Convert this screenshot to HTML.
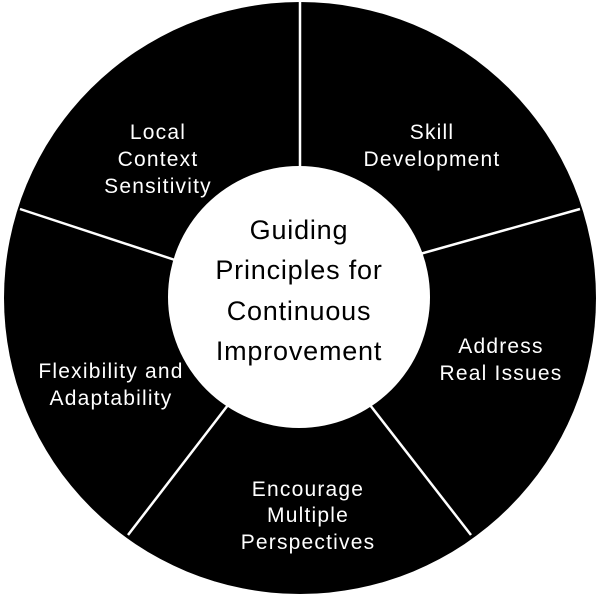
<!DOCTYPE html>
<html><head><style>
html,body{margin:0;padding:0;background:#fff;}
svg{display:block}
text{font-family:"Liberation Sans",sans-serif;text-anchor:middle;}
.w{fill:#fff;font-size:21px;letter-spacing:1.2px;}
.b{fill:#000;font-size:27px;letter-spacing:0.8px;}
</style></head><body>
<svg width="600" height="605" viewBox="0 0 600 605">
<circle cx="300" cy="298" r="296" fill="#000"/>
<g stroke="#fff" stroke-width="2.5">
<line x1="300" y1="0" x2="300" y2="170"/>
<line x1="420" y1="254" x2="580" y2="209"/>
<line x1="370" y1="405" x2="471" y2="535"/>
<line x1="228" y1="405" x2="128" y2="535"/>
<line x1="178" y1="261" x2="20" y2="209"/>
</g>
<circle cx="299" cy="297" r="131" fill="#fff"/>
<text class="w" x="158" y="139">Local</text>
<text class="w" x="158" y="166">Context</text>
<text class="w" x="158" y="193">Sensitivity</text>
<text class="w" x="432" y="139">Skill</text>
<text class="w" x="432" y="166">Development</text>
<text class="w" x="501" y="353">Address</text>
<text class="w" x="501" y="380">Real Issues</text>
<text class="w" x="111" y="378">Flexibility and</text>
<text class="w" x="111" y="405">Adaptability</text>
<text class="w" x="308" y="496">Encourage</text>
<text class="w" x="308" y="522">Multiple</text>
<text class="w" x="308" y="549">Perspectives</text>
<text class="b" x="299" y="239">Guiding</text>
<text class="b" x="299" y="279">Principles for</text>
<text class="b" x="299" y="320">Continuous</text>
<text class="b" x="299" y="360">Improvement</text>
</svg>
</body></html>
